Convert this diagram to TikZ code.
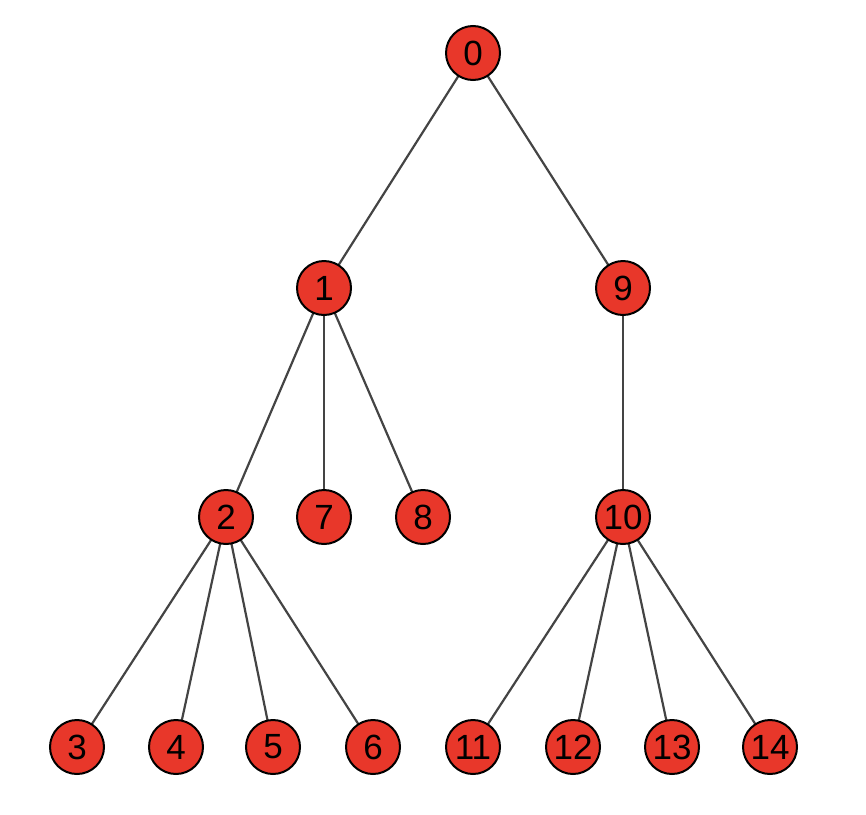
\documentclass[tikz,border=0pt]{standalone}
\usepackage{fontspec}
\setmainfont{Liberation Sans}
\usetikzlibrary{backgrounds}
\definecolor{nodered}{HTML}{E8372A}
\definecolor{edgegray}{HTML}{444444}
\begin{document}
\begin{tikzpicture}[x=1pt,y=-1pt,
  vert/.style={circle,draw=black,line width=2pt,fill=nodered,minimum size=54pt,inner sep=0pt,
    font=\fontsize{35}{35}\selectfont},
  edge/.style={draw=edgegray,line width=2.2pt}]
\useasboundingbox (0,0) rectangle (866,814);
\foreach \n/\x/\y/\t in {n0/473/53/0,n1/324/288/1,n9/623/288/9,n2/226/517/2,n7/324/517/7,n8/423/517/8,n10/623/517/10,n3/77/747/3,n4/176/747/4,n5/273/747/5,n6/373/747/6,n11/473/747/11,n12/573/747/12,n13/672/747/13,n14/770/747/14}{
  \node[vert] (\n) at (\x,\y) {\raisebox{-3pt}{\t}};
}
\begin{scope}[on background layer]
\foreach \a/\b in {n0/n1,n0/n9,n1/n2,n1/n7,n1/n8,n9/n10,n2/n3,n2/n4,n2/n5,n2/n6,n10/n11,n10/n12,n10/n13,n10/n14}
  \draw[edge] (\a.center) -- (\b.center);
\end{scope}
\end{tikzpicture}
\end{document}
